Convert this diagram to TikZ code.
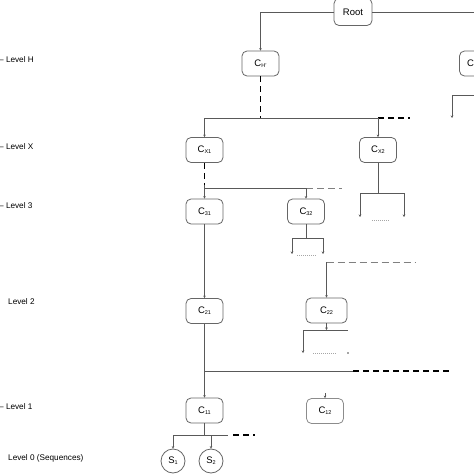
\documentclass[tikz,border=0pt]{standalone}
\usepackage{fontspec}
\setmainfont{Liberation Sans}
\usetikzlibrary{arrows.meta}
\newcommand\lowsub[1]{\raisebox{-1.3pt}{\fontsize{5.5}{6}\selectfont #1}}
\begin{document}
\begin{tikzpicture}[x=1pt,y=-1pt,
  cbox/.style={draw=black!60,line width=0.8pt,rounded corners=5pt,minimum width=37pt,minimum height=25pt,inner sep=0pt,font=\fontsize{9.5}{10}\selectfont},
  sbox/.style={draw=black!60,line width=0.8pt,circle,minimum size=24pt,inner sep=0pt,font=\fontsize{9.5}{10}\selectfont},
  conn/.style={draw=black!65,line width=0.7pt},
  arr/.style={conn,-{Stealth[length=2.5pt,width=2.5pt]}},
  thickdash/.style={draw=black,line width=1.3pt,dash pattern=on 6pt off 4pt},
  greydash/.style={draw=black!50,line width=0.9pt,dash pattern=on 7pt off 4pt},
  dotline/.style={draw=black!35,line width=0.6pt,dash pattern=on 1pt off 1pt},
  lvl/.style={anchor=west,inner sep=0pt,font=\fontsize{8.2}{9}\selectfont}]
\useasboundingbox (0,0) rectangle (474,474);
\clip (0,0) rectangle (474,474);
\fill[white] (0,0) rectangle (474,474);
% level labels
\node[lvl] (lH) at (-1,60) {– Level H};
\node[lvl] (lX) at (-1,147) {– Level X};
\node[lvl] (l3) at (-1,206) {– Level 3};
\node[lvl] (l2) at (8,302) {Level 2};
\node[lvl] (l1) at (-1,407) {– Level 1};
\node[lvl] (l0) at (8,458) {Level 0 (Sequences)};
% nodes
\node[cbox,minimum width=38pt,minimum height=27pt] (root) at (353,12) {Root};
\node[cbox] (cH) at (260.5,63.5) {C\lowsub{H'}};
\node[cbox] (cR) at (478,63.5) {\makebox[22pt][l]{C}};
\node[cbox] (cX1) at (204.5,150) {C\lowsub{X1}};
\node[cbox] (cX2) at (378,150) {C\lowsub{X2}};
\node[cbox] (c31) at (204.5,211.5) {C\lowsub{31}};
\node[cbox] (c32) at (306,211.5) {C\lowsub{32}};
\node[cbox] (c21) at (204.5,311) {C\lowsub{21}};
\node[cbox,minimum width=41pt] (c22) at (326.5,310.5) {C\lowsub{22}};
\node[cbox] (c11) at (204.5,410.5) {C\lowsub{11}};
\node[cbox,draw=black!45] (c12) at (325,411) {C\lowsub{12}};
\node[sbox] (s1) at (173,461) {S\lowsub{1}};
\node[sbox] (s2) at (211,461) {S\lowsub{2}};
% coordinates
\coordinate (rE) at (480,12);
\coordinate (jH) at (260.5,118);
\coordinate (jHl) at (204.5,118);
\coordinate (jHr) at (378,118);
\coordinate (jHd) at (410,118);
\coordinate (rA) at (452,95);
\coordinate (rB) at (480,95);
\coordinate (rC) at (452,118);
\coordinate (jX) at (204.5,188);
\coordinate (jXm) at (204.5,185);
\coordinate (jXr) at (306,188);
\coordinate (jXd) at (342,188);
\coordinate (x2a) at (378,193);
\coordinate (x2l) at (360,193);
\coordinate (x2r) at (404,193);
\coordinate (x2ld) at (360,217);
\coordinate (x2rd) at (404,217);
\coordinate (x2d1) at (372,220);
\coordinate (x2d2) at (390,220);
\coordinate (c32a) at (306,238);
\coordinate (c32l) at (292,238);
\coordinate (c32r) at (323,238);
\coordinate (c32ld) at (292,254);
\coordinate (c32rd) at (323,254);
\coordinate (c32d1) at (297,255);
\coordinate (c32d2) at (317,255);
\coordinate (j22) at (326.5,262);
\coordinate (j22d) at (415,262);
\coordinate (c22a) at (326.5,330);
\coordinate (c22l) at (303,330);
\coordinate (c22r) at (348,330);
\coordinate (c22ld) at (303,353);
\coordinate (c22rd) at (348,353);
\coordinate (c22d1) at (313,353);
\coordinate (c22d2) at (337,353);
\coordinate (j1) at (204.5,371);
\coordinate (j1r) at (353,371);
\coordinate (j1d) at (452,371);
\coordinate (c12a) at (325,393);
\coordinate (j0) at (204.5,435);
\coordinate (j0l) at (173,435);
\coordinate (j0r) at (228,435);
\coordinate (j0ds) at (233,435);
\coordinate (j0de) at (255,435);
% connectors
\draw[conn] (root.west) -- (cH.north |- root.west);
\draw[arr] (cH.north |- root.west) -- (cH.north);
\draw[conn] (root.east) -- (rE);
\draw[thickdash] (cH.south) -- (jH);
\draw[conn] (jHl) -- (jHr);
\draw[thickdash] (jHr) -- (jHd);
\draw[arr] (jHl) -- (cX1.north);
\draw[arr] (jHr) -- (cX2.north);
\draw[conn] (rB) -- (rA);
\draw[arr] (rA) -- (rC);
\draw[thickdash] (cX1.south) -- (jXm);
\draw[conn] (jXm) -- (jX) -- (jXr);
\draw[greydash] (jXr) -- (jXd);
\draw[arr] (jX) -- (c31.north);
\draw[arr] (jXr) -- (c32.north);
\draw[conn] (cX2.south) -- (x2a);
\draw[conn] (x2l) -- (x2r);
\draw[arr] (x2l) -- (x2ld);
\draw[arr] (x2r) -- (x2rd);
\draw[dotline] (x2d1) -- (x2d2);
\draw[conn] (c32.south) -- (c32a);
\draw[conn] (c32l) -- (c32r);
\draw[arr] (c32l) -- (c32ld);
\draw[arr] (c32r) -- (c32rd);
\draw[dotline] (c32d1) -- (c32d2);
\draw[arr] (j22) -- (c22.north);
\draw[greydash] (j22) -- (j22d);
\draw[arr] (c22.south) -- (c22a);
\draw[conn] (c22l) -- (c22r);
\draw[arr] (c22l) -- (c22ld);
\fill[black!70] (c22rd) circle (0.9pt);
\draw[dotline] (c22d1) -- (c22d2);
\draw[arr] (c31.south) -- (c21.north);
\draw[arr] (c21.south) -- (c11.north);
\draw[conn] (j1) -- (j1r);
\draw[thickdash] (j1r) -- (j1d);
\draw[arr] (c12a) -- (c12.north);
\draw[conn] (c11.south) -- (j0);
\draw[conn] (j0l) -- (j0r);
\draw[thickdash] (j0ds) -- (j0de);
\draw[arr] (j0l) -- (s1.north);
\draw[arr] (j0 -| s2.north) -- (s2.north);
\end{tikzpicture}
\end{document}
